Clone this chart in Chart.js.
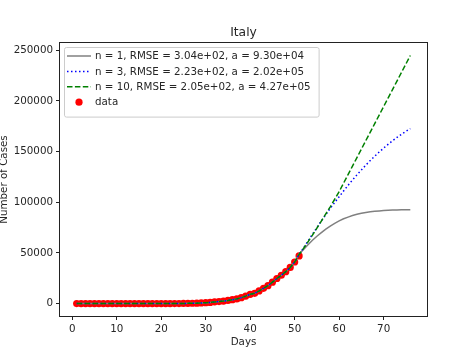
<!DOCTYPE html>
<html>
<head>
<meta charset="utf-8">
<script src="https://cdn.jsdelivr.net/npm/chart.js@4/dist/chart.umd.min.js"></script>
<style>
html,body{margin:0;padding:0;background:#fff;}
#c{display:block;}
</style>
</head>
<body>
<canvas id="c" width="474" height="355"></canvas>
<script>
// ---- data ----
const chartTitle = "Italy";
const xTitle = "Days";
const yTitle = "Number of Cases";

const dataDays = [1,2,3,4,5,6,7,8,9,10,11,12,13,14,15,16,17,18,19,20,21,22,23,24,25,26,27,28,29,30,31,32,33,34,35,36,37,38,39,40,41,42,43,44,45,46,47,48,49,50,51];
const dataCases = [0,2,2,2,2,2,2,2,3,3,3,3,3,3,3,3,3,3,3,3,3,3,20,62,155,229,322,453,655,888,1128,1694,2036,2502,3089,3858,4636,5883,7375,9172,10149,12462,15113,17660,21157,24747,27980,31506,35713,41035,47021];

const fitDays = [1,2,3,4,5,6,7,8,9,10,11,12,13,14,15,16,17,18,19,20,21,22,23,24,25,26,27,28,29,30,31,32,33,34,35,36,37,38,39,40,41,42,43,44,45,46,47,48,49,50,51,52,53,54,55,56,57,58,59,60,61,62,63,64,65,66,67,68,69,70,71,72,73,74,75,76];
const fitN1 = [0,0,0,0,0,0,0,0,0,0,0,0,0,0,0,0,0,0,0,0,0,5,20,60,150,230,320,450,650,880,1130,1690,2040,2500,3090,3860,4640,5880,7380,9170,10150,12460,15110,17660,21160,24750,27980,31510,35710,41200,49000,53500,58000,62500,66500,70000,73500,76500,79200,81600,83700,85400,86900,88100,89100,89900,90600,91100,91500,91800,92100,92300,92450,92550,92650,92700];
const fitN3 = [0,0,0,0,0,0,0,0,0,0,0,0,0,0,0,0,0,0,0,0,0,5,20,60,150,230,320,450,650,880,1130,1690,2040,2500,3090,3860,4640,5880,7380,9170,10150,12460,15110,17660,21160,24750,27980,31510,35710,41000,48500,55000,61700,68400,75000,81500,87800,93900,99800,105500,111200,116700,122000,127100,132000,136700,141200,145500,149600,153500,157200,160700,164000,167100,170000,172700];
const fitN10 = [0,0,0,0,0,0,0,0,0,0,0,0,0,0,0,0,0,0,0,0,0,5,20,60,150,230,320,450,650,880,1130,1690,2040,2500,3090,3860,4640,5880,7380,9170,10150,12460,15110,17660,21160,24750,27980,31510,35710,41000,48500,54500,61000,67500,74500,81500,88500,95500,103000,110500,118900,127300,135700,144100,152500,160900,169300,177700,186100,194500,202900,211300,219700,228100,236500,244900];

const seriesLabels = [
  "n = 1, RMSE = 3.04e+02, a = 9.30e+04",
  "n = 3, RMSE = 2.23e+02, a = 2.02e+05",
  "n = 10, RMSE = 2.05e+02, a = 4.27e+05",
  "data"
];
const xTicks = [0,10,20,30,40,50,60,70];
const yTicks = [0,50000,100000,150000,200000,250000];

// ---- chart ----
const FONT = "'DejaVu Sans', sans-serif";
const FS = 10.3;
const TXT = "#262626";
function pts(xs, ys){ return ys.map((v,i)=>({x:xs[i], y:v})); }

const extras = {
  id: 'extras',
  afterDraw(chart){
    const ctx = chart.ctx, a = chart.chartArea;
    ctx.save();
    // frame
    ctx.strokeStyle = '#222'; ctx.lineWidth = 1;
    ctx.strokeRect(Math.round(a.left)-0.5, Math.round(a.top)-0.5, Math.round(a.right-a.left)+1, Math.round(a.bottom-a.top)+1);
    // title
    ctx.fillStyle = TXT;
    ctx.font = "12.3px " + FONT;
    ctx.textAlign = 'center'; ctx.textBaseline = 'alphabetic';
    const cx = (a.left + a.right)/2;
    ctx.fillText(chartTitle, cx, 36);
    // x title
    ctx.font = FS + "px " + FONT;
    ctx.fillText(xTitle, cx, 344.5);
    // y title
    ctx.save();
    ctx.translate(7, (a.top + a.bottom)/2);
    ctx.rotate(-Math.PI/2);
    ctx.fillText(yTitle, 0, 0);
    ctx.restore();
    // legend (drawn in dataset order)
    const ds = chart.data.datasets;
    const lx = a.left + 4, ly = a.top + 4;
    ctx.font = FS + "px " + FONT;
    let maxW = 0;
    ds.forEach(d => { maxW = Math.max(maxW, ctx.measureText(d.label).width); });
    const textX = lx + 31;
    const rowH = 15.4;
    const bw = (textX - lx) + maxW + 8;
    const bh = 8 + rowH*ds.length;
    ctx.fillStyle = 'rgba(255,255,255,0.8)';
    ctx.strokeStyle = '#cccccc';
    ctx.lineWidth = 1;
    ctx.beginPath();
    if (ctx.roundRect) ctx.roundRect(lx+0.5, ly+0.5, bw, bh, 2); else ctx.rect(lx+0.5, ly+0.5, bw, bh);
    ctx.fill(); ctx.stroke();
    ds.forEach((d, i) => {
      const y = ly + 9 + rowH*i;
      if (d.type === 'scatter') {
        ctx.fillStyle = d.backgroundColor;
        ctx.beginPath(); ctx.arc(lx + 15, y, 3.6, 0, Math.PI*2); ctx.fill();
      } else {
        ctx.strokeStyle = d.borderColor; ctx.lineWidth = d.borderWidth;
        ctx.setLineDash(d.borderDash || []);
        ctx.beginPath(); ctx.moveTo(lx + 3, y); ctx.lineTo(lx + 27, y); ctx.stroke();
        ctx.setLineDash([]);
      }
      ctx.fillStyle = TXT;
      ctx.textAlign = 'left'; ctx.textBaseline = 'middle';
      ctx.fillText(d.label, textX, y + 0.5);
    });
    ctx.restore();
  }
};

new Chart(document.getElementById('c'), {
  type: 'line',
  data: {
    datasets: [
      { type:'line', order:3, label: seriesLabels[0], data: pts(fitDays, fitN1), borderColor:'#808080', borderWidth:1.5, pointRadius:0, fill:false, tension:0 },
      { type:'line', order:2, label: seriesLabels[1], data: pts(fitDays, fitN3), borderColor:'#0000ff', borderWidth:1.5, borderDash:[1.5,2.5], pointRadius:0, fill:false, tension:0 },
      { type:'line', order:1, label: seriesLabels[2], data: pts(fitDays, fitN10), borderColor:'#008000', borderWidth:1.5, borderDash:[5.5,2.4], pointRadius:0, fill:false, tension:0 },
      { type:'scatter', order:4, label: seriesLabels[3], data: pts(dataDays, dataCases), backgroundColor:'#ff0000', borderColor:'#ff0000', borderWidth:0, pointRadius:3.6, showLine:false }
    ]
  },
  options: {
    responsive: false,
    devicePixelRatio: 1,
    animation: false,
    events: [],
    layout: { padding: { top: 43, right: 47, left: 0, bottom: 0 } },
    plugins: { legend: { display:false }, title: { display:false }, tooltip: { enabled:false } },
    scales: {
      x: {
        type: 'linear', min: -2.75, max: 79.75, offset: false,
        afterFit: s => { s.height = 39; },
        afterBuildTicks: s => { s.ticks = xTicks.map(v => ({value:v})); },
        grid: { drawOnChartArea:false, drawTicks:true, tickLength:4, color:'#222', lineWidth:1 },
        border: { display:false },
        ticks: { autoSkip:false, maxRotation:0, padding:3, color:TXT, font:{ family:FONT, size:FS }, callback: v => String(v) }
      },
      y: {
        type: 'linear', min: -12250, max: 257250,
        afterFit: s => { s.width = 60; },
        afterBuildTicks: s => { s.ticks = yTicks.map(v => ({value:v})); },
        grid: { drawOnChartArea:false, drawTicks:true, tickLength:4, color:'#222', lineWidth:1 },
        border: { display:false },
        ticks: { autoSkip:false, padding:3, color:TXT, font:{ family:FONT, size:FS }, callback: v => String(v) }
      }
    }
  },
  plugins: [extras]
});
</script>
</body>
</html>
